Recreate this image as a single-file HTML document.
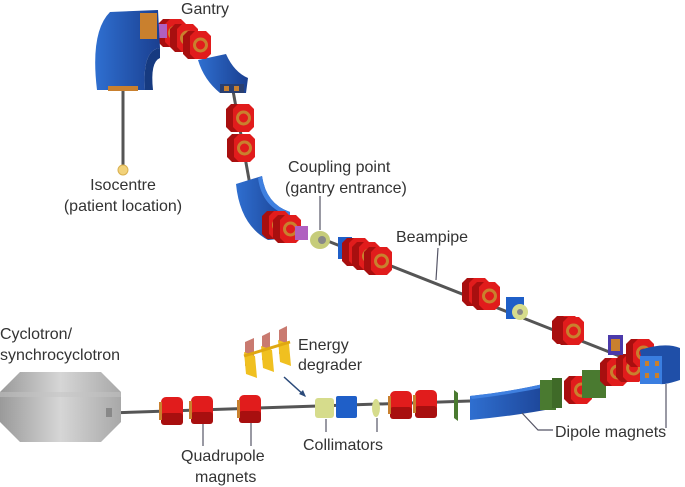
<!DOCTYPE html>
<html><head><meta charset="utf-8"><style>
html,body{margin:0;padding:0;background:#fff;width:685px;height:487px;overflow:hidden}
svg{display:block}
text{font-family:"Liberation Sans",sans-serif;font-size:16px;fill:#333}
</style></head><body>
<svg width="685" height="487" viewBox="0 0 685 487" xmlns="http://www.w3.org/2000/svg">
<defs>
<linearGradient id="cyc" x1="0" x2="1">
<stop offset="0" stop-color="#9a9a9a"/><stop offset="0.5" stop-color="#d6d6d6"/><stop offset="1" stop-color="#a8a8a8"/></linearGradient>
<linearGradient id="blu" x1="0" x2="1"><stop offset="0" stop-color="#2f6fd0"/><stop offset="1" stop-color="#1a3f90"/></linearGradient>
<g id="q">
<polygon points="-14,-9 -9,-14 2,-14 7,-9 7,9 2,14 -9,14 -14,9" fill="#a80f0f"/>
<polygon points="-7,-9 -2,-14 9,-14 14,-9 14,9 9,14 -2,14 -7,9" fill="#e11c1c"/>
<circle cx="3.5" cy="0" r="6" fill="none" stroke="#c9802e" stroke-width="3"/>
</g>
<g id="qs">
<rect x="-11" y="-14" width="22" height="28" rx="5" fill="#e11c1c"/>
<rect x="-11" y="2" width="22" height="12" rx="3" fill="#a80f0f"/>
<rect x="-13" y="-9" width="3" height="18" fill="#c9802e"/>
</g>
</defs>

<g stroke="#555" stroke-width="3" fill="none">
<line x1="108" y1="413" x2="470" y2="401"/>
<line x1="320" y1="238" x2="650" y2="368"/>
<line x1="123" y1="90" x2="123" y2="168"/>
<line x1="232" y1="85" x2="250" y2="185"/>
</g>

<polygon points="20,372 101,372 121,392 121,422 101,442 20,442 0,422 0,392" fill="url(#cyc)"/>
<polygon points="0,392 121,392 121,397 0,397" fill="#c4c4c4" opacity="0.5"/>
<rect x="106" y="408" width="6" height="9" fill="#888"/>

<use href="#qs" x="172" y="411"/>
<use href="#qs" x="202" y="410"/>
<use href="#qs" x="250" y="409"/>
<rect x="315" y="398" width="19" height="20" rx="3" fill="#d6dc8c"/>
<rect x="336" y="396" width="21" height="22" rx="2" fill="#1f5fc8"/>
<ellipse cx="376" cy="408" rx="4" ry="9" fill="#d6dc8c"/>
<use href="#qs" x="401" y="405"/>
<use href="#qs" x="426" y="404"/>
<polygon points="454,390 458,393 458,421 454,418" fill="#4a7a30"/>

<g>
<polygon points="245,342 254,338 254,362 245,366" fill="#c97a70"/>
<polygon points="262,336 270,332 270,356 262,360" fill="#c97a70"/>
<polygon points="279,330 287,326 287,350 279,354" fill="#c97a70"/>
<polygon points="244,352 255,356 257,378 246,374" fill="#f0c020"/>
<polygon points="261,346 272,350 274,372 263,368" fill="#f0c020"/>
<polygon points="278,340 289,344 291,366 280,362" fill="#f0c020"/>
<line x1="244" y1="356" x2="290" y2="342" stroke="#e0a810" stroke-width="3"/>
</g>
<line x1="284" y1="377" x2="305" y2="396" stroke="#2b4a7a" stroke-width="1.5"/>
<polygon points="306,397 299,394 303,390" fill="#2b4a7a"/>

<path d="M470,396 Q510,392 552,382 L556,408 Q515,416 470,420 Z" fill="url(#blu)"/>
<path d="M470,396 Q510,392 552,382 L555,385 Q515,394 472,399 Z" fill="#3f80e0"/>
<rect x="540" y="380" width="16" height="30" fill="#4a7a30"/>
<rect x="552" y="378" width="10" height="30" fill="#3f6a28"/>
<use href="#q" x="578" y="390"/>
<rect x="582" y="370" width="24" height="28" fill="#4a7a30"/>
<use href="#q" x="614" y="372"/>
<use href="#q" x="630" y="368"/>
<use href="#q" x="566" y="330"/>
<rect x="608" y="335" width="15" height="20" fill="#4b3aaa"/>
<rect x="611" y="339" width="9" height="12" fill="#c9802e"/>
<use href="#q" x="640" y="353"/>
<path d="M640,350 Q665,342 680,348 L680,380 Q665,385 660,384 L645,384 Z" fill="#1f4fa8"/>
<rect x="640" y="356" width="22" height="28" fill="#3a7ee0"/>
<rect x="645" y="361" width="4" height="5" fill="#c9802e"/><rect x="655" y="361" width="4" height="5" fill="#c9802e"/>
<rect x="645" y="373" width="4" height="5" fill="#c9802e"/><rect x="655" y="373" width="4" height="5" fill="#c9802e"/>

<use href="#q" x="476" y="292"/>
<use href="#q" x="486" y="296"/>
<rect x="506" y="297" width="18" height="22" fill="#1f5fc8"/>
<circle cx="520" cy="312" r="8" fill="#d6dc8c"/><circle cx="520" cy="312" r="3" fill="#888"/>
<use href="#q" x="570" y="331"/>
<rect x="338" y="237" width="14" height="22" fill="#1f5fc8"/>
<use href="#q" x="356" y="252"/>
<use href="#q" x="366" y="256"/>
<use href="#q" x="378" y="261"/>
<ellipse cx="320" cy="240" rx="10" ry="9" fill="#c6cc7a"/>
<ellipse cx="322" cy="240" rx="4" ry="4" fill="#888"/>

<!-- gantry lower dipole -->
<path d="M236,184 L262,176 Q266,204 290,212 L290,238 L268,240 Q240,225 236,184 Z" fill="url(#blu)"/>
<path d="M262,176 Q266,204 290,212 L290,216 Q262,208 258,178 Z" fill="#3f80e0"/>
<use href="#q" x="276" y="225"/>
<use href="#q" x="287" y="229"/>
<rect x="295" y="226" width="13" height="14" fill="#b060c0"/>
<use href="#q" x="240" y="118"/>
<use href="#q" x="241" y="148"/>
<!-- gantry upper dipole -->
<path d="M198,60 L226,54 Q234,72 248,78 L246,93 L220,93 Q204,80 198,60 Z" fill="url(#blu)"/>
<rect x="220" y="84" width="24" height="9" fill="#2a3f70"/>
<rect x="224" y="86" width="5" height="5" fill="#c9802e"/><rect x="234" y="86" width="5" height="5" fill="#c9802e"/>
<use href="#q" x="172" y="33"/>
<use href="#q" x="184" y="38"/>
<use href="#q" x="197" y="45"/>
<rect x="155" y="24" width="12" height="14" fill="#b060c0"/>
<!-- big gantry arc -->
<path d="M97,90 Q90,32 110,12 L158,10 L160,48 Q142,50 145,90 Z" fill="url(#blu)"/>
<path d="M145,90 Q142,50 160,48 L160,58 Q150,62 153,90 Z" fill="#163a80"/>
<rect x="140" y="13" width="17" height="26" fill="#c9802e"/>
<rect x="108" y="86" width="30" height="5" fill="#c9802e"/>
<circle cx="123" cy="170" r="5" fill="#f2d27a" stroke="#d9b050"/>

<g stroke="#556" stroke-width="1.2">
<line x1="320" y1="196" x2="320" y2="230"/>
<line x1="438" y1="248" x2="436" y2="280"/>
<line x1="203" y1="424" x2="203" y2="446"/>
<line x1="251" y1="423" x2="251" y2="446"/>
<line x1="326" y1="419" x2="326" y2="432"/>
<line x1="377" y1="418" x2="377" y2="432"/>
<polyline points="522,413 538,430 553,430" fill="none"/>
<line x1="666" y1="384" x2="666" y2="428"/>
</g>

<text x="181" y="14">Gantry</text>
<text x="123" y="190" text-anchor="middle">Isocentre</text>
<text x="123" y="211" text-anchor="middle">(patient location)</text>
<text x="288" y="172">Coupling point</text>
<text x="285" y="193">(gantry entrance)</text>
<text x="396" y="242">Beampipe</text>
<text x="0" y="339">Cyclotron/</text>
<text x="0" y="360">synchrocyclotron</text>
<text x="298" y="350">Energy</text>
<text x="298" y="370">degrader</text>
<text x="303" y="450">Collimators</text>
<text x="181" y="461">Quadrupole</text>
<text x="195" y="482">magnets</text>
<text x="555" y="437">Dipole magnets</text>
</svg>
</body></html>
